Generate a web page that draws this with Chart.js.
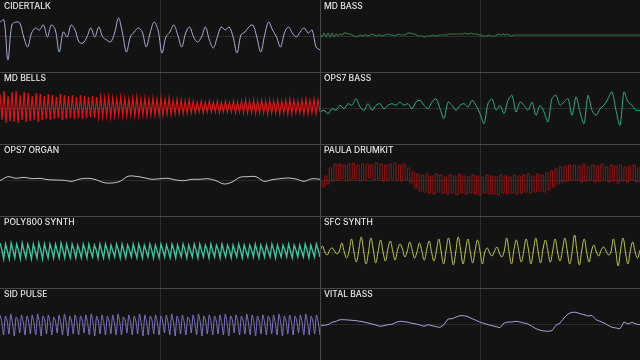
<!DOCTYPE html>
<html>
<head>
<meta charset="utf-8">
<script src="https://cdn.jsdelivr.net/npm/chart.js@4.4.1/dist/chart.umd.min.js"></script>
<style>
  html, body { margin: 0; padding: 0; background: #131313; }
  #wrap { position: relative; width: 640px; height: 360px; overflow: hidden; background: #131313; }
  .panel { position: absolute; width: 320px; height: 72px; }
  .panel canvas { display: block; }
  .label { position: absolute; left: 4px; top: 2px; font: 500 8.5px Inter, "DejaVu Sans", sans-serif;
           line-height: 9px; color: #e8e8e8; white-space: nowrap; }
  .hline { position: absolute; left: 0; width: 640px; height: 1px; background: #474747; }
  .vline { position: absolute; top: 0; left: 320px; width: 1px; height: 360px; background: #474747; }
</style>
</head>
<body>
<div id="wrap"></div>
<script>
// panel names, read left to right, top to bottom
var panelTitles = ['CIDERTALK', 'MD BASS', 'MD BELLS', 'OPS7 BASS', 'OPS7 ORGAN',
                   'PAULA DRUMKIT', 'POLY800 SYNTH', 'SFC SYNTH', 'SID PULSE', 'VITAL BASS'];

// waveform samples, amplitude in px from the centre line (+ is up), evenly spaced across the panel
var ciderTalk = [14,16,-24,11,14,13,-1,-11,3,8,6,11,-1,11,6,-16,4,-1,11,6,-6,-7,-1,8,-1,9,-1,-4,-6,3,
  18,3,-16,-1,4,8,4,-11,3,14,6,-17,-1,4,11,1,-11,3,9,-1,-6,-1,9,-4,-12,-1,9,6,9,-1,
  -17,1,4,9,11,-1,-16,1,14,6,-1,-11,3,9,3,-1,4,8,3,6,-11,-14];

var mdBass = [3,-1,3,-1,3,-1,3,-1,2,0,2,1,
  3,3,2,2,1,0,-1,0,
  1,0,1,1,0,1,2,1,0,1,1,0,1,1,2,1,1,0,1,2,1,1,1,2,3,3,2,2,1,0,0,
  0,-1,0,0,0,1,0,0,1,1,1,1,1,
  2,2,2,2,2,2,2,2,3,2,2,3,2,2,2,1,1,
  0,0,0,1,0,0,0,1,2,1,2,1,2,1,0,
  1,1,1,1,1,1,1,1,1,1,1,1,1,1,1,1,
  1,1,1,1,1,1,1,1,1,1,1,1,1,1,1,1,
  1,1,1,1,1,1,1,1,1,1,1,1,1,1,1,1,
  1,1,1,1,1,1,1,1,1,1,1,1,1,1,1,1];

var mdBells = [14,-12,17,-15,12,-13,16,-14,17,-15,13,-12,16,-14,15,-13,12,-12,15,-14,
  14,-12,12,-11,14,-12,13,-11,11,-10,14,-12,13,-11,12,-10,13,-11,11,-10,13,-11,12,-10,11,-9,12,-10,11,-9,
  11,-9,10,-8,11,-9,10,-8,9,-7,11,-8,10,-8,9,-7,10,-8,11,-8,9,-7,10,-8,9,-7,10,-7,9,-7,10,-7,9,-6,10,-7,8,-6,9,-6,
  8,-6,7,-5,8,-5,7,-5,6,-4,7,-5,6,-4,7,-4,6,-4,7,-5,6,-4,7,-4,6,-4,7,-5,6,-4,
  7,-5,8,-5,7,-5,8,-6,7,-5,8,-5,7,-6,8,-5,7,-5,8,-6,7,-5,8,-6,9,-6,8,-5,7,-5,8,-6,9,-6,8,-5,9,-6,8,-4];

var ops7Bass = [-4,-2.3,-5.7,-0.7,-2.3,2.7,-0.7,4.3,2.7,9.3,1,-2.3,4.3,-2.3,2.7,4.3,-0.7,2.7,4.3,2.7,
  6,2.7,4.3,-0.7,6,7.7,2.7,-0.7,6,9.3,-0.7,-10.7,6,2.7,-2.3,2.7,4.3,1,7.7,2.7,
  -5.7,-15.7,4.3,9.3,-2.3,2.7,-5.7,7.7,12.7,-4,6,2.7,-2.3,6,-7.3,2.7,-4,-14,9.3,12.7,
  2.7,6,9.3,-7.3,11,-4,-15.7,12.7,-2.3,-7.3,-0.7,2.7,9.3,16,-2.3,-17.3,16,6,2.7,-2.3,-2.3];

var ops7Organ = [-0.7,3.3,1.7,2.7,1.3,1.7,0.3,0,-0.3,-1.3,1,1.7,0.3,-2.7,-3,-1.3,3.7,3.7,2.3,0.7,
  1.3,1.7,0,-0.7,0.7,0.7,1.3,-0.7,-4,-2,2.7,3.3,3.3,-1.3,0.3,1.3,2,1,-1.3,1.3,0.7];

var paulaDrumkit = [-1,-7,4,-4,12,-1,16,0,
  16,1,15,-1,16,0,17,1,15,-1,16,0,16,2,15,0,17,1,16,-1,15,0,16,1,17,0,15,-1,16,0,
  12,-3,8,-8,6,-11,
  5,-12,6,-13,4,-14,6,-12,5,-13,3,-14,5,-13,4,-15,6,-13,4,-14,3,-13,5,-14,4,-15,3,-13,
  5,-14,4,-14,3,-15,5,-13,4,-14,3,-13,5,-14,4,-13,5,-12,6,-13,4,-12,6,-11,5,-12,7,-10,
  9,-7,11,-4,13,-2,14,-1,15,0,
  15,0,14,-2,16,-1,13,0,15,-2,14,-1,16,0,13,-2,15,-1,14,-3,15,-1,13,-2,14,0,15,-2,12,-3];

var poly800Synth = [9,2,-7,8,1,-7,9,2,-6,8,2,-7,9,1,-6,8,2,-7,8,1,-6,9,2,-7,8,1,-6,8,2,-6,
  8,1,-6,9,2,-6,8,1,-6,8,2,-6,7,1,-6,8,2,-6,8,1,-5,7,2,-6,8,1,-6,8,2,-6,
  7,1,-5,8,2,-6,8,1,-6,7,2,-5,8,1,-6,8,2,-6,7,1,-5,8,2,-6,7,1,-6,8,2,-5,
  7,1,-6,8,2,-6,7,1,-5,8,2,-6,7,1,-5,8,2,-6,8,1,-5,7,2,-6,8,1,-5,7,2,-6,
  8,1,-5,7,2,-6,7,1,-5,8,2,-6,7,1,-5,7,2,-5,8,1,-6,7,2,-5,7,1,-5,8,2,-6,
  7,1,-5,7,2,-5,8,1,-6,7,2,-5,7,1,-5,8,2,-6,7,1,-5,8,2,-5];

var sfcSynth = [1,6,0,-3, 2,4,1,-2, 1,9,0,-6, 1,13,0,-10, 2,15,1,-12, 0,14,2,-11, 1,12,0,-9, 3,11,1,-8,
  2,8,3,-5, 1,10,2,-6, 0,9,1,-8, 2,11,0,-9, 1,13,0,-12, 2,14,1,-13, 0,15,2,-12, 1,13,0,-11,
  2,12,1,-12, 0,4,-1,-4, 1,5,-1,-5, 1,14,0,-12, 2,12,1,-10, 0,13,2,-12, 1,14,0,-11, 3,12,1,-10,
  1,13,0,-9, 2,14,1,-12, 0,17,1,-13, 2,13,0,-10, 1,7,0,-4, 2,5,1,-3, 0,13,1,-14, 2,14,0,-12,
  1,10,0,-6, 2];

var sidPulse = [9,2,-11,8,3,-10,10,1,-12,7,4,-9,9,2,-11,8,3,-10,9,1,-11,10,2,-12,8,4,-10,9,2,-11,
  7,3,-9,9,1,-11,10,2,-12,8,3,-10,9,2,-11,8,4,-9,9,1,-11,10,2,-12,8,3,-10,9,2,-11,
  8,3,-10,9,1,-11,10,2,-11,7,4,-9,9,2,-11,8,3,-10,10,1,-12,9,2,-11,8,4,-10,9,2,-11,
  8,3,-9,9,1,-11,10,2,-12,8,3,-10,9,2,-11,7,4,-9,9,1,-11,10,2,-12,8,3,-10,9,2,-11,
  8,3,-10,9,1,-11,10,2,-12,8,4,-9,9,2,-11,8,3,-10,10,1,-11,9,2,-12,8,3,-10,9,2,-11,
  8,4,-10,9,1,-11,10,2,-12,8,3,-10,9,2,-11,8,3,-9,9,1,-11,10,2,-11,8,3,-10,9,2,-11];

var vitalBass = [-1.3,-1.3,-0.7,1.7,2.7,4.3,4.3,4,3.7,3.3,2.7,2,1,0,-1,-2.3,-1.7,-0.7,-0.3,1.7,
  2.7,2.3,1.7,0.7,0,-1,-2.3,-0.7,-1.7,-2.7,-3.3,-0.7,5,5.3,7,8.3,8.3,7.3,5.3,3.7,
  1.7,0.7,-0.7,-1.7,-2.7,-3.7,1,2,2,2.7,2,1,0,-2.3,-4.7,-6.3,-7,-7.3,-6.7,-1.3,
  1,6,10,11.7,11.7,10.3,9.3,8,8.7,4.3,2.7,1,-1.3,-3.3,-4,-4.7,2,0,1.7,0,-0.7];

var panels = [
  { values: ciderTalk,    color: '#aaaed6', width: 1, tension: 0.35 },
  { values: mdBass,       color: '#37704f', width: 1.1, tension: 0.2 },
  { values: mdBells,      color: '#dc1519', width: 1.2, tension: 0 },
  { values: ops7Bass,     color: '#30ab87', width: 1, tension: 0.3 },
  { values: ops7Organ,    color: '#c4c4c4', width: 1, tension: 0.35 },
  { values: paulaDrumkit, color: '#8e1717', width: 1, tension: 0, stepped: true },
  { values: poly800Synth, color: '#3fc6a2', width: 1.3, tension: 0 },
  { values: sfcSynth,     color: '#c2c956', width: 1, tension: 0.4 },
  { values: sidPulse,     color: '#7f78c6', width: 1, tension: 0.2 },
  { values: vitalBass,    color: '#a0a2d4', width: 1, tension: 0 }
];

// faint zero line + centre marker in every panel
var centerLines = {
  id: 'centerLines',
  beforeDatasetsDraw: function (chart) {
    var a = chart.chartArea, ctx = chart.ctx;
    var x = Math.round((a.left + a.right) / 2) + 0.5;
    var y = Math.round(chart.scales.y.getPixelForValue(0)) + 0.5;
    ctx.save();
    ctx.strokeStyle = '#2c2c2c';
    ctx.lineWidth = 1;
    ctx.beginPath();
    ctx.moveTo(x, a.top); ctx.lineTo(x, a.bottom);
    ctx.moveTo(a.left, y); ctx.lineTo(a.right, y);
    ctx.stroke();
    ctx.restore();
  }
};

var wrap = document.getElementById('wrap');

panels.forEach(function (p, i) {
  var box = document.createElement('div');
  box.className = 'panel';
  box.style.left = (i % 2) * 320 + 'px';
  box.style.top = Math.floor(i / 2) * 72 + 'px';
  var cv = document.createElement('canvas');
  cv.width = 320; cv.height = 72;
  box.appendChild(cv);
  var lab = document.createElement('div');
  lab.className = 'label';
  lab.textContent = panelTitles[i];
  box.appendChild(lab);
  wrap.appendChild(box);

  new Chart(cv, {
    type: 'line',
    data: {
      labels: p.values.map(function (_, k) { return k; }),
      datasets: [{
        data: p.values,
        borderColor: p.color,
        borderWidth: p.width,
        pointRadius: 0,
        tension: p.tension,
        stepped: p.stepped || false,
        fill: false
      }]
    },
    options: {
      responsive: false,
      animation: false,
      events: [],
      layout: { padding: 0 },
      plugins: { legend: { display: false }, tooltip: { enabled: false } },
      scales: {
        x: { display: false },
        y: { display: false, min: -36, max: 36 }
      }
    },
    plugins: [centerLines]
  });
});

// panel borders
[72, 144, 216, 288].forEach(function (y) {
  var d = document.createElement('div');
  d.className = 'hline';
  d.style.top = y + 'px';
  wrap.appendChild(d);
});
var v = document.createElement('div');
v.className = 'vline';
wrap.appendChild(v);
</script>
</body>
</html>
